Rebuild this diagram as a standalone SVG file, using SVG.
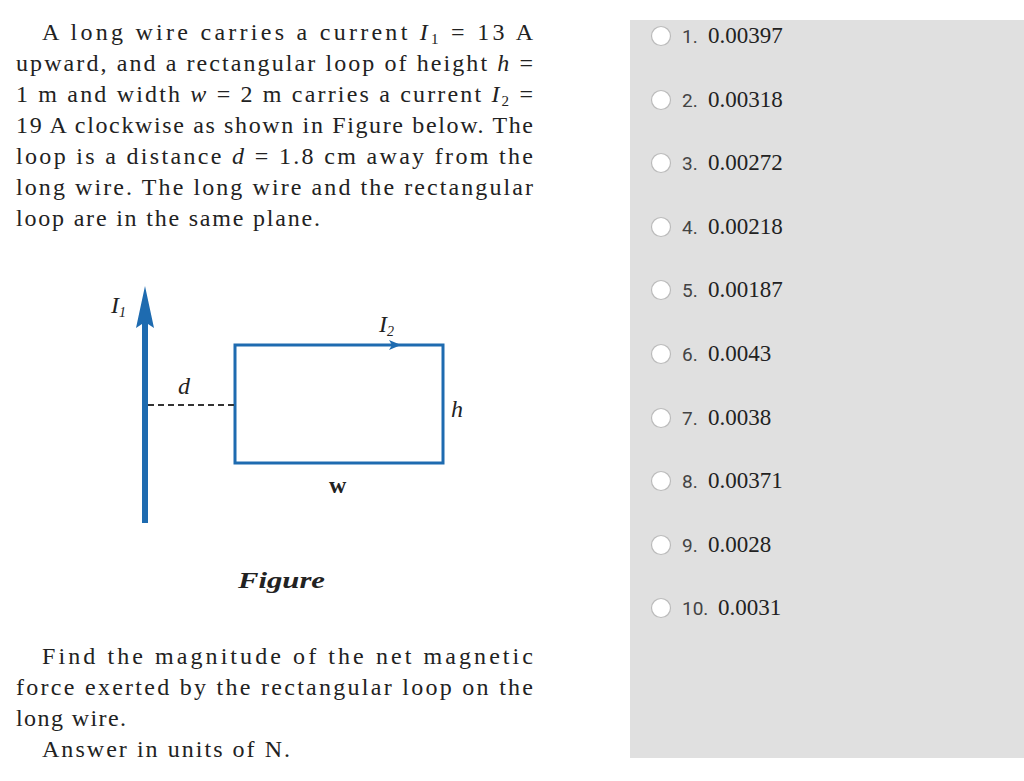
<svg xmlns="http://www.w3.org/2000/svg" width="1024" height="781" viewBox="0 0 1024 781">
<style>
.t{font-family:"Liberation Serif",serif;font-size:24px;fill:#222}
.i{font-style:italic}
.o{font-family:Roboto,"Liberation Sans",sans-serif;font-size:19px;fill:#444}
.n{font-family:"Liberation Serif",serif;font-size:23px;fill:#222}
.c{fill:#fff;stroke:#bbb;stroke-width:1.2}
.b{stroke:#1e6bb0;fill:none}
</style>
<rect width="1024" height="781" fill="#fff"/>
<g id="question">
<text class="t" x="42" y="40" textLength="491" lengthAdjust="spacing">A long wire carries a current <tspan class="i">I</tspan><tspan font-size="15" dy="4">1</tspan><tspan dy="-4"> = 13 A</tspan></text>
<text class="t" x="16" y="71" textLength="517" lengthAdjust="spacing">upward, and a rectangular loop of height <tspan class="i">h</tspan> =</text>
<text class="t" x="16" y="102" textLength="517" lengthAdjust="spacing">1 m and width <tspan class="i">w</tspan> = 2 m carries a current <tspan class="i">I</tspan><tspan font-size="15" dy="4">2</tspan><tspan dy="-4"> =</tspan></text>
<text class="t" x="16" y="133" textLength="517" lengthAdjust="spacing">19 A clockwise as shown in Figure below. The</text>
<text class="t" x="16" y="164" textLength="517" lengthAdjust="spacing">loop is a distance <tspan class="i">d</tspan> = 1.8 cm away from the</text>
<text class="t" x="16" y="195" textLength="517" lengthAdjust="spacing">long wire. The long wire and the rectangular</text>
<text class="t" x="16" y="226" textLength="304" lengthAdjust="spacing">loop are in the same plane.</text>
</g>
<g id="figure">
<line class="b" x1="145" y1="300" x2="145" y2="523" stroke-width="6"/>
<polygon points="145,286 136,328 145,322 154,328" fill="#1e6bb0"/>
<rect class="b" x="235" y="345" width="208" height="118" stroke-width="3"/>
<polygon points="401,345 389,340 392,345 389,350" fill="#1e6bb0"/>
<line x1="148" y1="405" x2="234" y2="405" stroke="#333" stroke-width="2" stroke-dasharray="6,4"/>
<text class="t i" x="111" y="313" font-size="22">I<tspan font-size="14" dy="4">1</tspan></text>
<text class="t i" x="379" y="332" font-size="22">I<tspan font-size="14" dy="4">2</tspan></text>
<text class="t i" x="178" y="394" font-size="22">d</text>
<text class="t i" x="451" y="417" font-size="22">h</text>
<text class="t" x="329" y="493" font-size="21" font-weight="bold">w</text>
<text class="t i" x="238" y="588" font-size="25" font-weight="bold" textLength="87" lengthAdjust="spacingAndGlyphs">Figure</text>
</g>
<g id="question2">
<text class="t" x="42" y="664" textLength="491" lengthAdjust="spacing">Find the magnitude of the net magnetic</text>
<text class="t" x="16" y="695" textLength="517" lengthAdjust="spacing">force exerted by the rectangular loop on the</text>
<text class="t" x="16" y="726" textLength="110" lengthAdjust="spacing">long wire.</text>
<text class="t" x="42" y="757" textLength="248" lengthAdjust="spacing">Answer in units of N.</text>
</g>
<g id="options">
<rect x="630" y="20" width="394" height="738" fill="#e0e0e0"/>
<circle class="c" cx="661" cy="36" r="9.5"/><text class="o" x="682" y="43">1.</text><text class="n" x="708" y="43">0.00397</text>
<circle class="c" cx="661" cy="100" r="9.5"/><text class="o" x="682" y="107">2.</text><text class="n" x="708" y="107">0.00318</text>
<circle class="c" cx="661" cy="163" r="9.5"/><text class="o" x="682" y="170">3.</text><text class="n" x="708" y="170">0.00272</text>
<circle class="c" cx="661" cy="227" r="9.5"/><text class="o" x="682" y="234">4.</text><text class="n" x="708" y="234">0.00218</text>
<circle class="c" cx="661" cy="290" r="9.5"/><text class="o" x="682" y="297">5.</text><text class="n" x="708" y="297">0.00187</text>
<circle class="c" cx="661" cy="354" r="9.5"/><text class="o" x="682" y="361">6.</text><text class="n" x="708" y="361">0.0043</text>
<circle class="c" cx="661" cy="418" r="9.5"/><text class="o" x="682" y="425">7.</text><text class="n" x="708" y="425">0.0038</text>
<circle class="c" cx="661" cy="481" r="9.5"/><text class="o" x="682" y="488">8.</text><text class="n" x="708" y="488">0.00371</text>
<circle class="c" cx="661" cy="545" r="9.5"/><text class="o" x="682" y="552">9.</text><text class="n" x="708" y="552">0.0028</text>
<circle class="c" cx="661" cy="608" r="9.5"/><text class="o" x="682" y="615">10.</text><text class="n" x="718" y="615">0.0031</text>
</g>
</svg>
